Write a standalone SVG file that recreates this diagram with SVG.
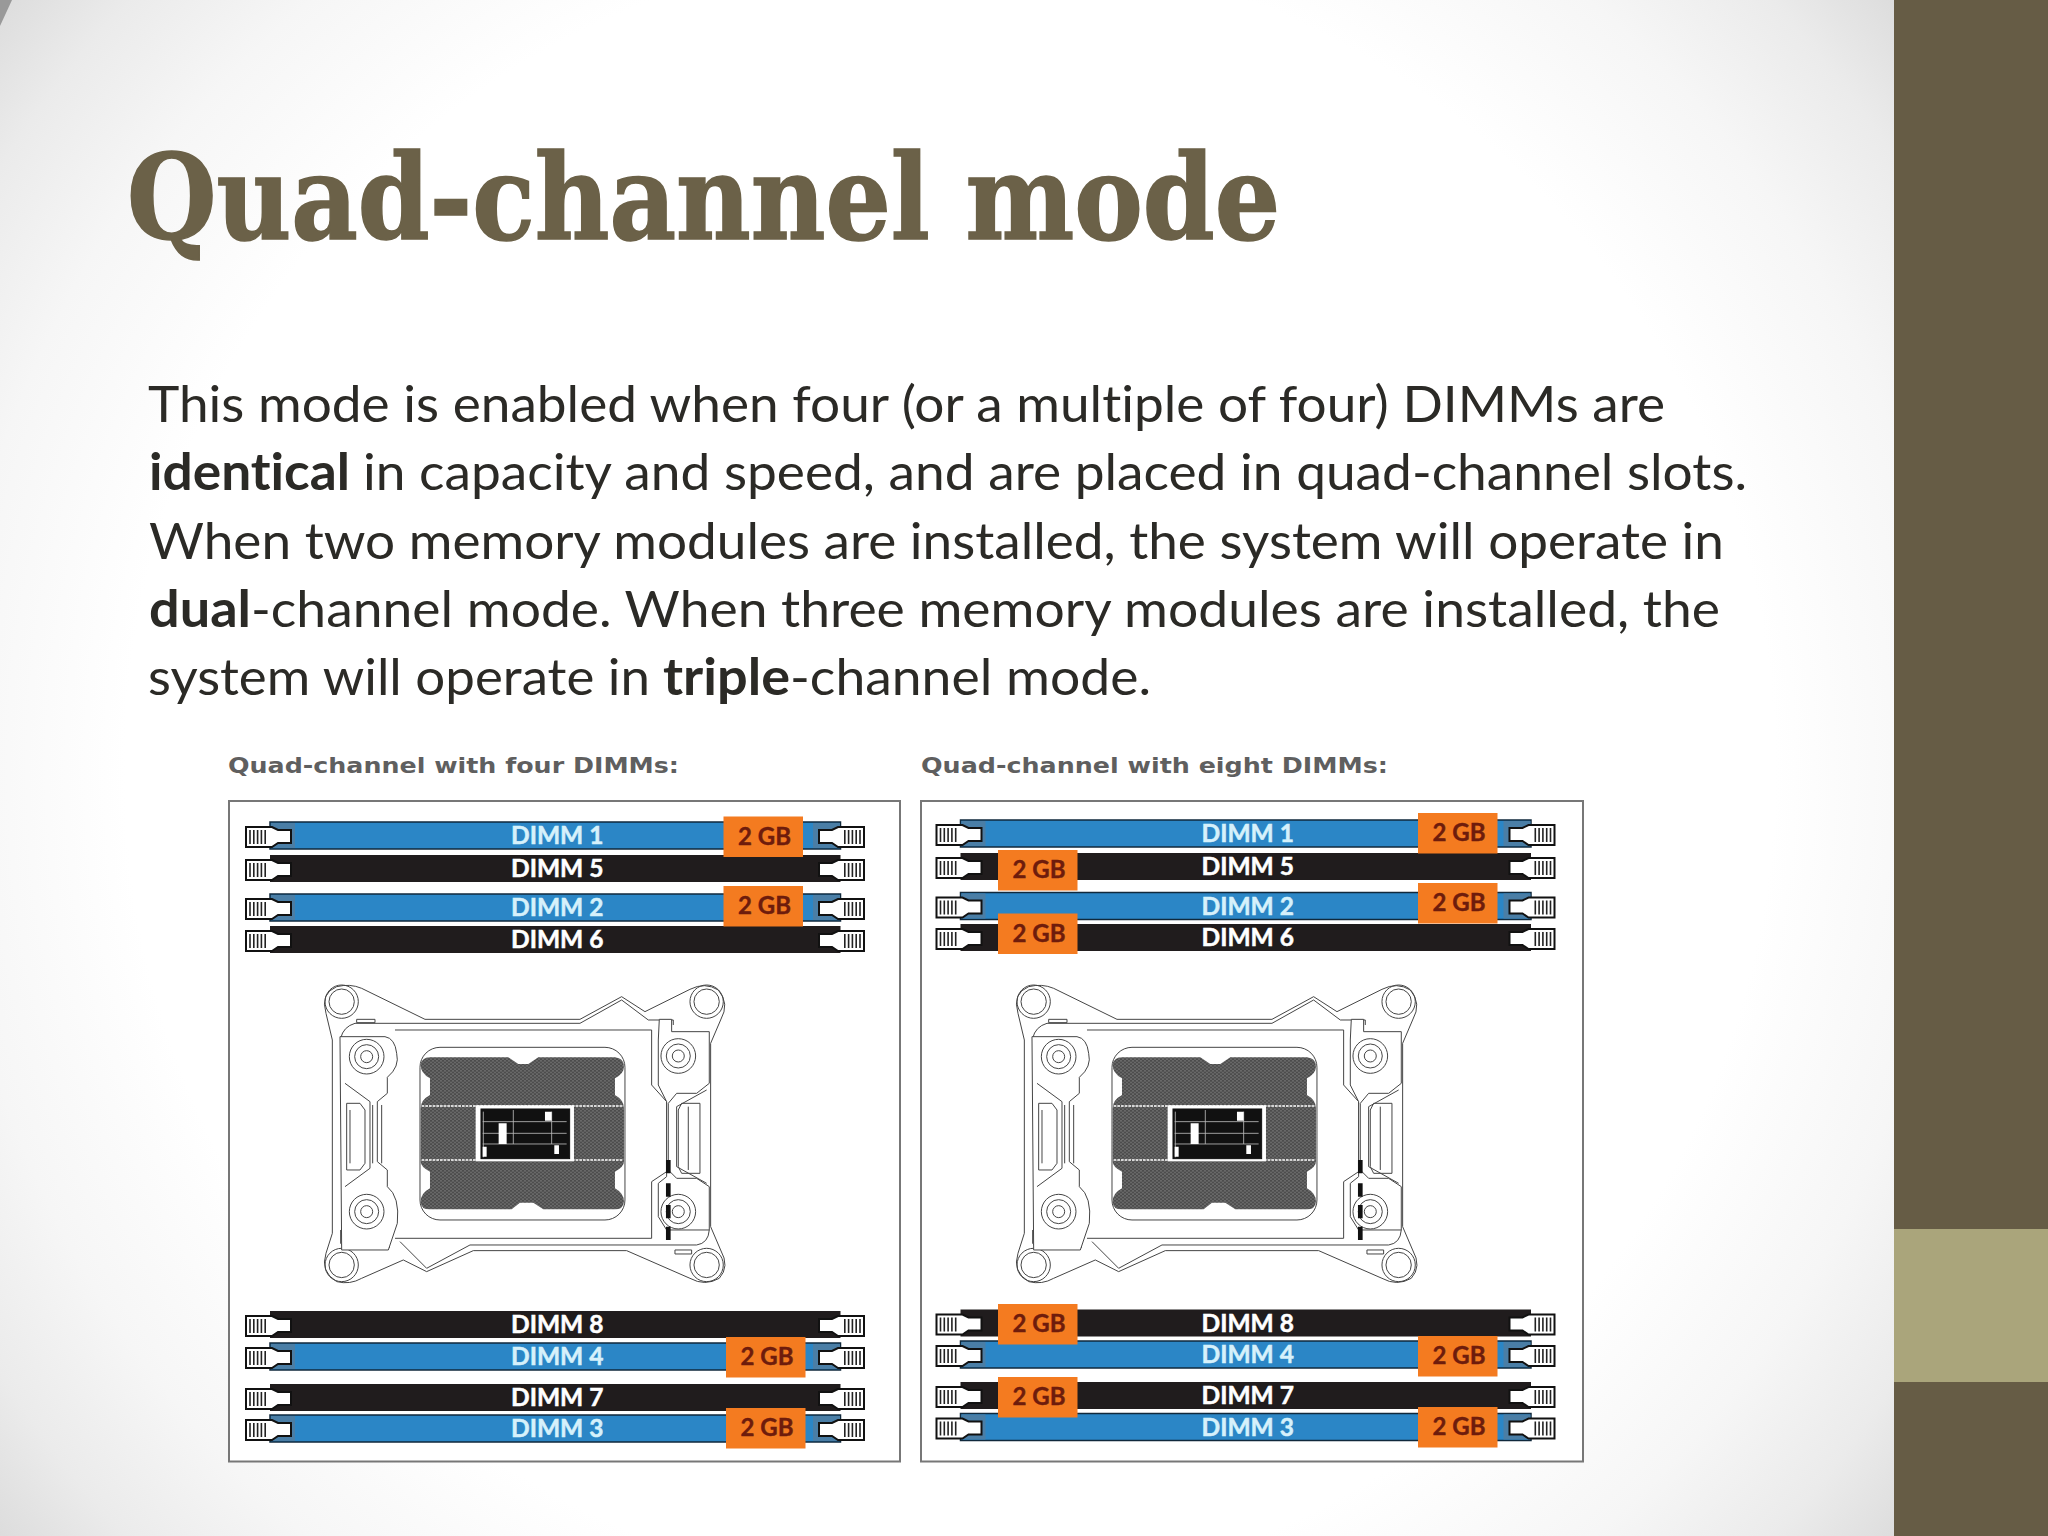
<svg xmlns="http://www.w3.org/2000/svg" width="2048" height="1536" viewBox="0 0 2048 1536">
<style>
.body{font-family:Lato,"Open Sans",sans-serif;font-size:51px;fill:#2b2a26;font-variant-ligatures:none}
.b{font-weight:700}
.sub{font-family:"DejaVu Sans",sans-serif;font-weight:700;font-size:21px;fill:#5f5f5f}
.panel{fill:#fff;stroke:#777;stroke-width:2}
.lab{font-family:Lato,"Open Sans",sans-serif;font-weight:700;font-size:24.500px;stroke-width:.5px;font-variant-ligatures:none}
.onb{fill:#d6f1fb;stroke:#d6f1fb}.onk{fill:#fff;stroke:#fff}
.gb rect{fill:#f47b20}
.gb text{font-family:Lato,"Open Sans",sans-serif;font-weight:700;font-size:25px;fill:#6e1c0c;stroke:#6e1c0c;stroke-width:.4px}
.s{fill:none;stroke:#444;stroke-width:3;stroke-linejoin:round}
.w{fill:#fff;stroke:#444;stroke-width:3;stroke-linejoin:round}
</style>
<defs>
<radialGradient id="bg" gradientUnits="userSpaceOnUse" cx="950" cy="770" r="1250">
<stop offset="0.66" stop-color="#fff"/><stop offset="0.8" stop-color="#f6f6f6"/><stop offset="0.9" stop-color="#ebebeb"/><stop offset="1" stop-color="#d8d8d8"/>
</radialGradient>
<pattern id="lga" width="12" height="10" patternUnits="userSpaceOnUse">
<rect width="12" height="10" fill="#4c4c4c"/><circle cx="3" cy="2.500" r="1.900" fill="#a0a0a0"/><circle cx="9" cy="7.500" r="1.900" fill="#a0a0a0"/>
</pattern>
<g id="clip">
<path d="M246,5 H272 L278,8 H291 V21 H278 L272,25 H246Z" fill="#fff" stroke="#111" stroke-width="2"/>
<path d="M250,8V22M253.800,8V22M257.600,8V22M261.400,8V22M265.200,8V22" stroke="#222" stroke-width="1.600" fill="none"/>
</g>
<g id="blue">
<rect x="270" y="0" width="570.500" height="27" fill="#2b86c6" stroke="#10293c" stroke-width="1.500"/>
<rect x="271" y="1" width="24" height="25" fill="#4a7ea6"/><rect x="813" y="1" width="27" height="25" fill="#4a7ea6"/>
<use href="#clip"/><use href="#clip" transform="translate(1110,0) scale(-1,1)"/>
</g>
<g id="black">
<rect x="270" y="0" width="570.500" height="27" fill="#201c1d"/>
<use href="#clip"/><use href="#clip" transform="translate(1110,0) scale(-1,1)"/>
</g>
<g id="gb" class="gb"><rect x="0" y="0" width="79.500" height="40.500"/><text x="14.500" y="28" textLength="53" lengthAdjust="spacingAndGlyphs">2 GB</text></g>
<g id="sock" transform="translate(300,970) scale(0.3333)">
<path class="w" d="M185,55 L375,148 H840 L965,80 L1035,125 L1170,58 Q1215,35 1255,60 Q1290,100 1262,150 L1232,220 V770 L1262,840 Q1290,890 1258,925 Q1215,950 1170,925 L980,842 H520 L380,905 L310,870 L185,925 Q150,945 110,935 Q60,905 78,850 L97,790 V210 L78,130 Q60,70 110,50 Q150,40 185,55Z"/>
<circle class="s" cx="125" cy="95" r="50"/><circle class="s" cx="125" cy="95" r="38"/>
<circle class="s" cx="1220" cy="95" r="50"/><circle class="s" cx="1220" cy="95" r="38"/>
<circle class="s" cx="125" cy="885" r="50"/><circle class="s" cx="125" cy="885" r="38"/>
<circle class="s" cx="1220" cy="885" r="50"/><circle class="s" cx="1220" cy="885" r="38"/>
<path class="s" d="M122,205 Q130,170 165,160 H840 L965,90 L1045,150 H1120 V165 M122,780 V820 Q130,840 180,832 H270 M300,815 L380,895 L510,825 H1190 Q1225,820 1228,780 M170,148 H225 V158 H170Z M1125,840 H1175 V852 H1125Z"/>
<path class="s" d="M285,180 H1055 V345 L1100,395 V605 L1055,635 V805 H285"/>
<path class="w" d="M120,200 H255 Q285,205 290,250 Q300,290 262,322 V370 L232,395 V575 L262,600 V650 Q300,680 292,760 L265,840 H125Z"/>
<path class="w" d="M1078,148 H1115 V185 H1228 V340 L1190,370 H1130 L1105,400 V600 L1130,625 H1190 L1228,650 V780 H1100 L1075,740 V640 L1100,620 V395 L1075,345 V210Z"/>
<path class="s" d="M135,340 L210,395 V595 L135,650 M140,400 H180 L195,420 V580 L180,600 H140Z M150,420 V580 M218,405 V580 M245,405 V580 M1220,360 L1130,410 V590 L1220,640 M1145,400 H1200 V610 H1145 L1135,590 V420Z M1165,410 V600"/>
<circle class="s" cx="200" cy="260" r="52"/><circle class="s" cx="200" cy="260" r="36"/><circle class="s" cx="200" cy="260" r="18"/>
<circle class="s" cx="1135" cy="258" r="52"/><circle class="s" cx="1135" cy="258" r="36"/><circle class="s" cx="1135" cy="258" r="18"/>
<circle class="s" cx="200" cy="725" r="52"/><circle class="s" cx="200" cy="725" r="36"/><circle class="s" cx="200" cy="725" r="18"/>
<circle class="s" cx="1135" cy="725" r="52"/><circle class="s" cx="1135" cy="725" r="36"/><circle class="s" cx="1135" cy="725" r="18"/>
<path d="M1105,570V610M1105,640V680M1105,705V745M1105,770V810" stroke="#111" stroke-width="14" fill="none"/>
<rect class="s" x="360" y="232" width="615" height="518" rx="60"/>
<path fill="url(#lga)" d="M362,285 Q365,262 390,262 H625 L655,282 H685 L715,262 H945 Q972,265 972,290 Q972,310 945,325 V375 Q972,390 972,415 V575 Q972,590 945,605 V655 Q972,670 972,695 Q970,718 945,718 H730 L700,698 H660 L635,718 H390 Q362,718 362,695 Q362,670 390,655 V605 Q362,590 362,575 V415 Q362,390 390,375 V325 Q362,310 362,285Z"/>
<path d="M365,408 H970 M365,570 H970" stroke="#fff" stroke-width="5" stroke-dasharray="8 3" fill="none"/>
<rect x="527" y="406" width="295" height="168" fill="#fff"/>
<rect x="543" y="417" width="266" height="149" fill="#111" stroke="#111" stroke-width="3"/>
<path d="M550,425 V562 M548,455 H800 M548,490 H800 M548,522 H800 M640,420 V522 M755,425 V522" stroke="#bbb" stroke-width="2.500" fill="none"/>
<path d="M596,460 H620 V522 H596Z M735,425 H755 V452 H735Z M763,526 H777 V552 H763Z M548,530 H560 V560 H548Z" fill="#fff"/>
</g>
</defs>

<rect width="2048" height="1536" fill="url(#bg)"/>
<path d="M0,0 H12 L0,26Z" fill="#999"/>

<g id="sidebar">
<rect x="1894" y="0" width="154" height="1536" fill="#665c45"/>
<rect x="1894" y="1229" width="154" height="153" fill="#aaa57b"/>
</g>

<g id="title"><text x="127" y="239" font-family="'DejaVu Serif',serif" font-stretch="condensed" font-weight="700" font-size="118" fill="#6b6148" stroke="#6b6148" stroke-width="1.500" textLength="1153" lengthAdjust="spacingAndGlyphs">Quad-channel mode</text></g>

<g id="bodytext">
<text class="body" x="148" y="421.500" textLength="1517" lengthAdjust="spacingAndGlyphs">This mode is enabled when four (or a multiple of four) DIMMs are</text>
<text class="body b" x="149" y="490" textLength="201" lengthAdjust="spacingAndGlyphs">identical</text>
<text class="body" x="363" y="490" textLength="1384" lengthAdjust="spacingAndGlyphs">in capacity and speed, and are placed in quad-channel slots.</text>
<text class="body" x="149" y="558.500" textLength="1575" lengthAdjust="spacingAndGlyphs">When two memory modules are installed, the system will operate in</text>
<text class="body b" x="149" y="626.500" textLength="102" lengthAdjust="spacingAndGlyphs">dual</text>
<text class="body" x="251" y="626.500" textLength="1469" lengthAdjust="spacingAndGlyphs">-channel mode. When three memory modules are installed, the</text>
<text class="body" x="148" y="694.500" textLength="502" lengthAdjust="spacingAndGlyphs">system will operate in</text>
<text class="body b" x="663" y="694.500" textLength="127" lengthAdjust="spacingAndGlyphs">triple</text>
<text class="body" x="790" y="694.500" textLength="361" lengthAdjust="spacingAndGlyphs">-channel mode.</text>
</g>

<g id="panel-four">
<text class="sub" x="228" y="773" textLength="451" lengthAdjust="spacingAndGlyphs">Quad-channel with four DIMMs:</text>
<rect class="panel" x="229" y="801" width="671" height="660.500"/>
<g id="socket-four"><use href="#sock"/></g>
<g id="four-dimm1" transform="translate(0,822)"><use href="#blue"/><text class="lab onb" x="511" y="22">DIMM 1</text></g>
<g id="four-dimm5" transform="translate(0,855)"><use href="#black"/><text class="lab onk" x="511" y="22">DIMM 5</text></g>
<g id="four-dimm2" transform="translate(0,894)"><use href="#blue"/><text class="lab onb" x="511" y="22">DIMM 2</text></g>
<g id="four-dimm6" transform="translate(0,926)"><use href="#black"/><text class="lab onk" x="511" y="22">DIMM 6</text></g>
<g id="four-dimm8" transform="translate(0,1311)"><use href="#black"/><text class="lab onk" x="511" y="22">DIMM 8</text></g>
<g id="four-dimm4" transform="translate(0,1343)"><use href="#blue"/><text class="lab onb" x="511" y="22">DIMM 4</text></g>
<g id="four-dimm7" transform="translate(0,1384)"><use href="#black"/><text class="lab onk" x="511" y="22">DIMM 7</text></g>
<g id="four-dimm3" transform="translate(0,1415)"><use href="#blue"/><text class="lab onb" x="511" y="22">DIMM 3</text></g>
<g id="four-sizes">
<use href="#gb" x="723.500" y="816.500"/><use href="#gb" x="723.500" y="886"/>
<use href="#gb" x="726" y="1337"/><use href="#gb" x="726" y="1408"/>
</g>
</g>

<g id="panel-eight">
<text class="sub" x="921" y="773" textLength="467" lengthAdjust="spacingAndGlyphs">Quad-channel with eight DIMMs:</text>
<rect class="panel" x="921" y="801" width="662" height="660.500"/>
<g id="socket-eight" transform="translate(692,0)"><use href="#sock"/></g>
<g id="eight-dimm1" transform="translate(690.500,820)"><use href="#blue"/><text class="lab onb" x="511" y="22">DIMM 1</text></g>
<g id="eight-dimm5" transform="translate(690.500,853)"><use href="#black"/><text class="lab onk" x="511" y="22">DIMM 5</text></g>
<g id="eight-dimm2" transform="translate(690.500,892.500)"><use href="#blue"/><text class="lab onb" x="511" y="22">DIMM 2</text></g>
<g id="eight-dimm6" transform="translate(690.500,924)"><use href="#black"/><text class="lab onk" x="511" y="22">DIMM 6</text></g>
<g id="eight-dimm8" transform="translate(690.500,1309.500)"><use href="#black"/><text class="lab onk" x="511" y="22">DIMM 8</text></g>
<g id="eight-dimm4" transform="translate(690.500,1341)"><use href="#blue"/><text class="lab onb" x="511" y="22">DIMM 4</text></g>
<g id="eight-dimm7" transform="translate(690.500,1382)"><use href="#black"/><text class="lab onk" x="511" y="22">DIMM 7</text></g>
<g id="eight-dimm3" transform="translate(690.500,1413.500)"><use href="#blue"/><text class="lab onb" x="511" y="22">DIMM 3</text></g>
<g id="eight-sizes">
<use href="#gb" x="1418" y="813"/><use href="#gb" x="998" y="850"/>
<use href="#gb" x="1418" y="883"/><use href="#gb" x="998" y="913.500"/>
<use href="#gb" x="998" y="1304"/><use href="#gb" x="1418" y="1336"/>
<use href="#gb" x="998" y="1377"/><use href="#gb" x="1418" y="1407"/>
</g>
</g>
</svg>
